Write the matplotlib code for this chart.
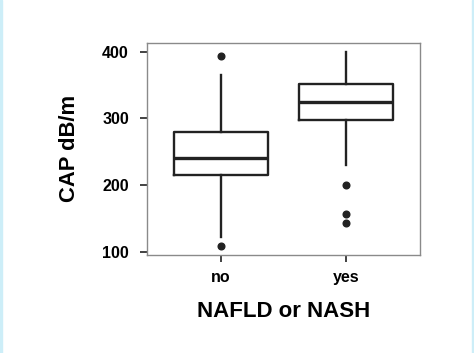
import matplotlib
matplotlib.use("Agg")
from matplotlib import pyplot as plt
from matplotlib.patches import Rectangle

# values
groups = ["no", "yes"]
medians = [240, 325]
q1 = [215, 297]
q3 = [280, 352]
whis_low = [122, 230]
whis_high = [365, 400]
outliers = [[394, 109], [200, 156, 143]]

plt.rcParams['font.family'] = ['Liberation Sans', 'DejaVu Sans']

fig = plt.figure(figsize=(4.74, 3.53), dpi=100)
ax = fig.add_axes([0.310, 0.279, 0.576, 0.599])

stats = []
for i in range(len(groups)):
    stats.append(dict(med=medians[i], q1=q1[i], q3=q3[i],
                      whislo=whis_low[i], whishi=whis_high[i],
                      fliers=outliers[i], label=groups[i]))

dark = "#222222"
ax.bxp(stats, positions=[1, 2], widths=0.75, showcaps=False,
       boxprops=dict(color=dark, linewidth=1.7),
       whiskerprops=dict(color=dark, linewidth=1.7),
       medianprops=dict(color=dark, linewidth=2.4),
       flierprops=dict(marker='o', markerfacecolor=dark, markeredgecolor=dark,
                       markersize=4.8))

ax.set_xlim(0.408, 2.592)
ax.set_ylim(95.5, 412.7)
ax.set_yticks([100, 200, 300, 400])
ax.set_xticks([1, 2])
ax.set_xticklabels(groups)

for s in ax.spines.values():
    s.set_color("#8a8a8a")
    s.set_linewidth(1.0)

ax.tick_params(axis='both', length=5, width=1.2, color="#222222",
               labelsize=11.5)
for lbl in ax.get_xticklabels() + ax.get_yticklabels():
    lbl.set_fontweight('bold')
ax.tick_params(axis='y', pad=8)
ax.tick_params(axis='x', pad=6)

ax.set_ylabel("CAP dB/m", fontsize=15.8, fontweight='bold', labelpad=16)
ax.set_xlabel("NAFLD or NASH", fontsize=16, fontweight='bold', labelpad=12)

# thin light blue edge on the sides of the picture
fig.patches.append(Rectangle((0, 0), 0.005, 1, transform=fig.transFigure,
                             color="#cdeef8", zorder=0))
fig.patches.append(Rectangle((0.995, 0), 0.005, 1, transform=fig.transFigure,
                             color="#cdeef8", zorder=0))

fig.savefig("out.png", dpi=100)
